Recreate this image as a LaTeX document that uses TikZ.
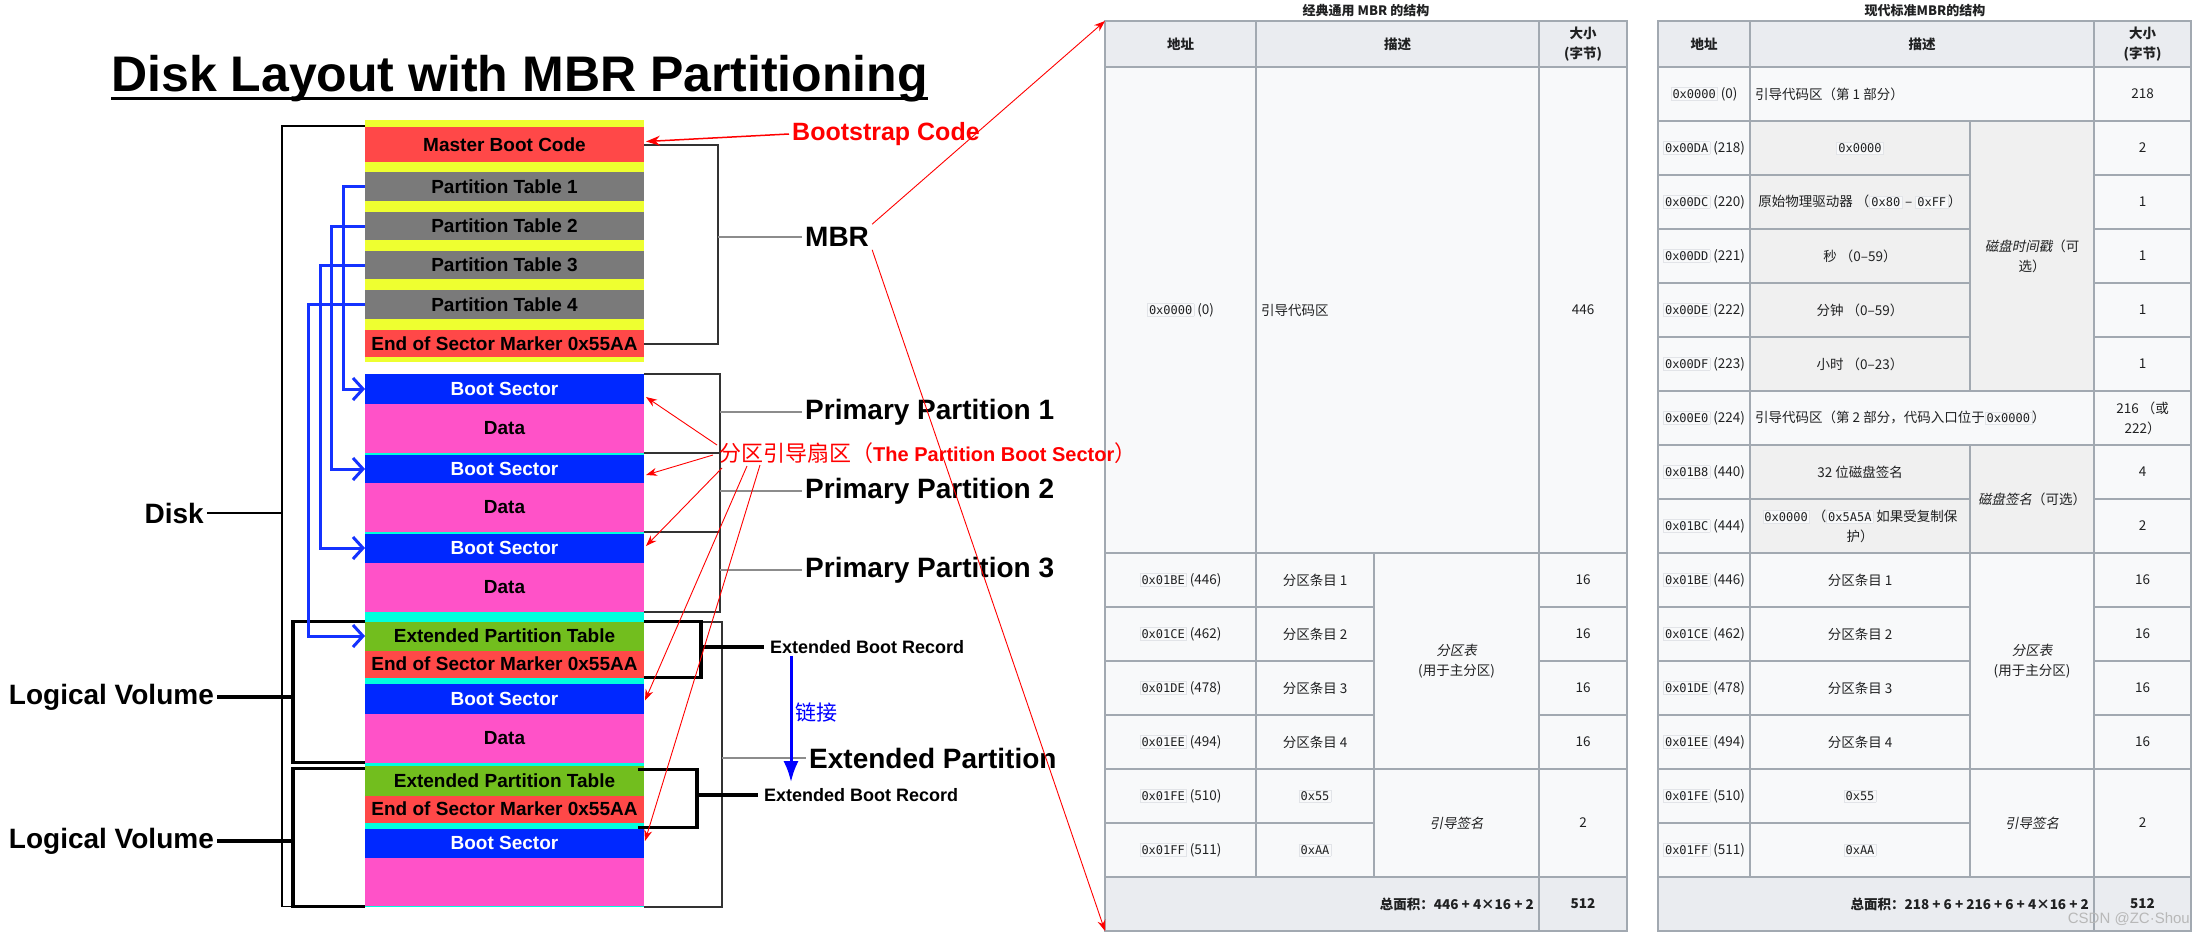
\documentclass[tikz,border=0pt]{standalone}
\usepackage{fontspec}
\setmainfont{Liberation Sans}
\setmonofont{DejaVu Sans Mono}
\newfontfamily\cjk{Noto Sans CJK SC}
\newfontfamily\cjkit[FakeSlant=0.2]{Noto Sans CJK SC}
\usepackage{tikz}
\usetikzlibrary{arrows.meta,positioning,calc}

\definecolor{mbrred}{RGB}{255,72,72}
\definecolor{sepyellow}{RGB}{238,255,48}
\definecolor{ptgray}{RGB}{122,122,122}
\definecolor{bootblue}{RGB}{0,40,255}
\definecolor{datapink}{RGB}{255,82,200}
\definecolor{sepcyan}{RGB}{0,255,222}
\definecolor{eptgreen}{RGB}{114,190,30}
\definecolor{ptrblue}{RGB}{20,50,255}
\definecolor{linkblue}{RGB}{0,0,255}
\definecolor{tblline}{RGB}{162,169,177}
\definecolor{tblhead}{RGB}{234,236,240}
\definecolor{tblcell}{RGB}{248,249,250}
\definecolor{tblshade}{RGB}{240,240,240}
\definecolor{tbltext}{RGB}{32,33,34}
\definecolor{codeline}{RGB}{226,228,232}

\newcommand\hx[1]{{\setlength\fboxsep{1.5pt}\fcolorbox{codeline}{tblcell}{\ttfamily\fontsize{12}{13}\selectfont#1}}}

\begin{document}
\begin{tikzpicture}[x=1pt,y=-1pt,
  blk/.style={rectangle, minimum width=279, inner sep=0, outer sep=0, font=\bfseries\fontsize{19}{22}\selectfont},
  bsblk/.style={blk, fill=bootblue, text=white},
  datablk/.style={blk, fill=datapink},
  lbl/.style={inner sep=3, font=\bfseries\fontsize{28}{32}\selectfont},
  sub/.style={inner sep=6, font=\bfseries\fontsize{18}{21}\selectfont},
  brk/.style={draw=black!80, line width=2},
  tick/.style={draw=black!45, line width=2},
  brkthick/.style={draw=black, line width=3.5},
  disk/.style={draw=black, line width=1.8},
  ptr/.style={draw=ptrblue, line width=3, -{Straight Barb[length=10pt,width=22pt]}},
  redarr/.style={draw=red, line width=1.5, -{Stealth[length=14pt,width=10pt]}},
  redthin/.style={draw=red, line width=0.9, -{Stealth[length=11pt,width=8pt]}},
  linkarr/.style={draw=linkblue, line width=3, -{Latex[length=21pt,width=15pt]}},
  cell/.style={draw=tblline, line width=1.2, fill=tblcell, anchor=north west, inner sep=2, outer sep=0, text=tbltext, align=center, font=\cjk\fontsize{13.5}{20}\selectfont},
  hcell/.style={cell, fill=tblhead, font=\cjk\bfseries\fontsize{13.5}{20}\selectfont},
  txt/.style={inner sep=0, text=tbltext, font=\cjk\fontsize{13.5}{20}\selectfont},
  ttl/.style={inner sep=0, text=tbltext, font=\cjk\bfseries\fontsize{13}{16}\selectfont},
  ra/.style={cell, minimum width=151, minimum height=54},
  rb/.style={cell, minimum width=118, minimum height=54},
  rc/.style={cell, minimum width=165},
  rd/.style={cell, minimum width=88, minimum height=54},
  sa/.style={cell, minimum width=92, minimum height=54},
  sb/.style={cell, minimum width=220, minimum height=54},
  sc/.style={cell, minimum width=124},
  sd/.style={cell, minimum width=97, minimum height=54}]
\path[use as bounding box, fill=white] (0,0) rectangle (2196,934);

\node[anchor=base west, inner sep=0, font=\bfseries\fontsize{50}{60}\selectfont] (title) at (111,92) {Disk Layout with MBR Partitioning};
\draw[line width=3] ($(title.base west)+(0,6)$) -- ($(title.base east)+(0,6)$);

% the disk, top to bottom
\node[blk, fill=sepyellow, minimum height=7, anchor=north] (y0) at (504.5,120) {};
\node[blk, fill=mbrred, minimum height=35, below=0pt of y0] (mbc) {Master Boot Code};
\node[blk, fill=sepyellow, minimum height=10, below=0pt of mbc] (y1) {};
\node[blk, fill=ptgray, minimum height=29, below=0pt of y1] (pt1) {Partition Table 1};
\node[blk, fill=sepyellow, minimum height=11, below=0pt of pt1] (y2) {};
\node[blk, fill=ptgray, minimum height=28, below=0pt of y2] (pt2) {Partition Table 2};
\node[blk, fill=sepyellow, minimum height=11, below=0pt of pt2] (y3) {};
\node[blk, fill=ptgray, minimum height=28, below=0pt of y3] (pt3) {Partition Table 3};
\node[blk, fill=sepyellow, minimum height=11, below=0pt of pt3] (y4) {};
\node[blk, fill=ptgray, minimum height=29, below=0pt of y4] (pt4) {Partition Table 4};
\node[blk, fill=sepyellow, minimum height=11, below=0pt of pt4] (y5) {};
\node[blk, fill=mbrred, minimum height=27, below=0pt of y5] (eos) {End of Sector Marker 0x55AA};
\node[blk, fill=sepyellow, minimum height=5, below=0pt of eos] (y6) {};
\node[blk, minimum height=12, below=0pt of y6] (gap) {};
\node[bsblk, minimum height=30, below=0pt of gap] (bs1) {Boot Sector};
\node[datablk, minimum height=49, below=0pt of bs1] (d1) {Data};
\node[blk, fill=sepcyan, minimum height=2, below=0pt of d1] (c1) {};
\node[bsblk, minimum height=28, below=0pt of c1] (bs2) {Boot Sector};
\node[datablk, minimum height=49, below=0pt of bs2] (d2) {Data};
\node[blk, fill=sepcyan, minimum height=1.5, below=0pt of d2] (c2) {};
\node[bsblk, minimum height=29, below=0pt of c2] (bs3) {Boot Sector};
\node[datablk, minimum height=49, below=0pt of bs3] (d3) {Data};
\node[blk, fill=sepcyan, minimum height=10, below=0pt of d3] (c3) {};
\node[blk, fill=eptgreen, minimum height=29, below=0pt of c3] (ept1) {Extended Partition Table};
\node[blk, fill=mbrred, minimum height=27, below=0pt of ept1] (eos1) {End of Sector Marker 0x55AA};
\node[blk, fill=sepcyan, minimum height=6, below=0pt of eos1] (c4) {};
\node[bsblk, minimum height=30, below=0pt of c4] (bs4) {Boot Sector};
\node[datablk, minimum height=49, below=0pt of bs4] (d4) {Data};
\node[blk, fill=sepcyan, minimum height=3, below=0pt of d4] (c5) {};
\node[blk, fill=eptgreen, minimum height=30, below=0pt of c5] (ept2) {Extended Partition Table};
\node[blk, fill=mbrred, minimum height=27, below=0pt of ept2] (eos2) {End of Sector Marker 0x55AA};
\node[blk, fill=sepcyan, minimum height=6, below=0pt of eos2] (c6) {};
\node[bsblk, minimum height=29, below=0pt of c6] (bs5) {Boot Sector};
\node[datablk, minimum height=49, below=0pt of bs5] (d5) {};
\draw[sepcyan, line width=1.5] (d5.south west) -- (d5.south east);

% right brackets
\draw[brk] (mbc.east) -- ++(74,0) coordinate (mbrx) |- (eos.east);
\node[lbl, anchor=west] (mbr) at (802,237) {MBR};
\draw[tick] (mbrx |- mbr.west) -- (mbr.west);
\draw[brk] (bs1.north east) -- ++(76,0) coordinate (ppx) |- (d3.south east);
\draw[brk] (d1.south east) -- (ppx |- d1.south);
\draw[brk] (d2.south east) -- (ppx |- d2.south);
\node[lbl, anchor=west] (pp1) at (802,412) {Primary Partition 1};
\node[lbl, anchor=west] (pp2) at (802,491) {Primary Partition 2};
\node[lbl, anchor=west] (pp3) at (802,570) {Primary Partition 3};
\draw[tick] (ppx |- pp1.west) -- (pp1.west);
\draw[tick] (ppx |- pp2.west) -- (pp2.west);
\draw[tick] (ppx |- pp3.west) -- (pp3.west);
\draw[brk] (ept1.north east) -- ++(78,0) coordinate (epx) |- (d5.south east);
\node[lbl, anchor=west] (extp) at (806,758) {Extended Partition};
\draw[tick] (epx |- extp.west) -- (extp.west);
\draw[brkthick] (ept1.north east) -- ++(57,0) coordinate (eb1x) |- (eos1.south east);
\node[sub, anchor=west] (ebr1) at (764,647) {Extended Boot Record};
\draw[brkthick] (eb1x |- ebr1.west) -- (ebr1.west);
\draw[brkthick] ($(ept2.north east)+(-6,4)$) -- ++(59,0) coordinate (eb2x) |- ($(eos2.south east)+(-6,5)$);
\node[sub, anchor=west] (ebr2) at (758,795) {Extended Boot Record};
\draw[brkthick] (eb2x |- ebr2.west) -- (ebr2.west);

% left brackets
\draw[brkthick] (ept1.north west) -- ++(-72,0) coordinate (lv1x) |- (d4.south west);
\node[lbl, anchor=east] (lv1) at (217,697) {Logical Volume};
\draw[brkthick] (lv1x |- lv1.east) -- (lv1.east);
\draw[brkthick] ($(ept2.north west)+(0,3)$) -- ++(-72,0) coordinate (lv2x) |- (d5.south west);
\node[lbl, anchor=east] (lv2) at (217,841) {Logical Volume};
\draw[brkthick] (lv2x |- lv2.east) -- (lv2.east);
\draw[disk] ($(y0.north west)+(0,6)$) -- ++(-83,0) coordinate (dkx) |- (d5.south west);
\node[lbl, anchor=east] (disk) at (207,513) {Disk};
\draw[disk] (dkx |- disk.east) -- (disk.east);

% partition table pointers
\draw[ptr] (pt1.west) -- ++(-22,0) |- (bs1.west);
\draw[ptr] (pt2.west) -- ++(-34,0) |- (bs2.west);
\draw[ptr] (pt3.west) -- ++(-45,0) |- (bs3.west);
\draw[ptr] (pt4.west) -- ++(-57,0) |- (ept1.west);

\coordinate (lk) at ($(ebr1.south west)+(27,-4)$);
\draw[linkarr] (lk) -- (lk |- ebr2.north);
\node[anchor=west, inner sep=1, text=linkblue, font=\cjk\fontsize{21}{24}\selectfont] (lnk) at (794,713) {链接};

% table 1
\node[ttl] (ta-ttl) at (1366,11) {经典通用 MBR 的结构};
\node[hcell, minimum width=151, minimum height=46] (ta-h1) at (1105,21) {地址};
\node[hcell, minimum width=283, minimum height=46] (ta-h2) at (1256,21) {描述};
\node[hcell, minimum width=88, minimum height=46] (ta-h3) at (1539,21) {大小\\(字节)};
\node[ra, minimum height=486] (ta-a0) at (1105,67) {\hx{0x0000} (0)};
\node[cell, minimum width=283, minimum height=486] (ta-b0) at (1256,67) {};
\node[txt, anchor=west] (ta-b0t) at ($(ta-b0.west)+(5,0)$) {引导代码区};
\node[rd, minimum height=486] (ta-d0) at (1539,67) {446};
\node[ra] (ta-a1) at (1105,553) {\hx{0x01BE} (446)};
\node[ra] (ta-a2) at (1105,607) {\hx{0x01CE} (462)};
\node[ra] (ta-a3) at (1105,661) {\hx{0x01DE} (478)};
\node[ra] (ta-a4) at (1105,715) {\hx{0x01EE} (494)};
\node[ra] (ta-a5) at (1105,769) {\hx{0x01FE} (510)};
\node[ra] (ta-a6) at (1105,823) {\hx{0x01FF} (511)};
\node[rb] (ta-b1) at (1256,553) {分区条目 1};
\node[rb] (ta-b2) at (1256,607) {分区条目 2};
\node[rb] (ta-b3) at (1256,661) {分区条目 3};
\node[rb] (ta-b4) at (1256,715) {分区条目 4};
\node[rb] (ta-b5) at (1256,769) {\hx{0x55}};
\node[rb] (ta-b6) at (1256,823) {\hx{0xAA}};
\node[rc, minimum height=216] (ta-c1) at (1374,553) {{\cjkit 分区表}\\(用于主分区)};
\node[rc, minimum height=108] (ta-c5) at (1374,769) {\cjkit 引导签名};
\node[rd] (ta-d1) at (1539,553) {16};
\node[rd] (ta-d2) at (1539,607) {16};
\node[rd] (ta-d3) at (1539,661) {16};
\node[rd] (ta-d4) at (1539,715) {16};
\node[rd, minimum height=108] (ta-d5) at (1539,769) {2};
\node[hcell, minimum width=434, minimum height=54] (ta-tot) at (1105,877) {};
\node[txt, anchor=east, font=\cjk\bfseries\fontsize{13.5}{20}\selectfont] (ta-tott) at ($(ta-tot.east)+(-5,0)$) {总面积：446 + 4×16 + 2};
\node[hcell, minimum width=88, minimum height=54] (ta-sum) at (1539,877) {512};

% table 2
\node[ttl] (tb-ttl) at (1925,11) {现代标准MBR的结构};
\node[hcell, minimum width=92, minimum height=46] (tb-h1) at (1658,21) {地址};
\node[hcell, minimum width=344, minimum height=46] (tb-h2) at (1750,21) {描述};
\node[hcell, minimum width=97, minimum height=46] (tb-h3) at (2094,21) {大小\\(字节)};
\node[sa] (tb-a1) at (1658,67) {\hx{0x0000} (0)};
\node[sa] (tb-a2) at (1658,121) {\hx{0x00DA} (218)};
\node[sa] (tb-a3) at (1658,175) {\hx{0x00DC} (220)};
\node[sa] (tb-a4) at (1658,229) {\hx{0x00DD} (221)};
\node[sa] (tb-a5) at (1658,283) {\hx{0x00DE} (222)};
\node[sa] (tb-a6) at (1658,337) {\hx{0x00DF} (223)};
\node[sa] (tb-a7) at (1658,391) {\hx{0x00E0} (224)};
\node[sa] (tb-a8) at (1658,445) {\hx{0x01B8} (440)};
\node[sa] (tb-a9) at (1658,499) {\hx{0x01BC} (444)};
\node[sa] (tb-a10) at (1658,553) {\hx{0x01BE} (446)};
\node[sa] (tb-a11) at (1658,607) {\hx{0x01CE} (462)};
\node[sa] (tb-a12) at (1658,661) {\hx{0x01DE} (478)};
\node[sa] (tb-a13) at (1658,715) {\hx{0x01EE} (494)};
\node[sa] (tb-a14) at (1658,769) {\hx{0x01FE} (510)};
\node[sa] (tb-a15) at (1658,823) {\hx{0x01FF} (511)};
\node[cell, minimum width=344, minimum height=54] (tb-b1) at (1750,67) {};
\node[txt, anchor=west] (tb-b1t) at ($(tb-b1.west)+(5,0)$) {引导代码区（第 1 部分）};
\node[sb, fill=tblshade] (tb-b2) at (1750,121) {\hx{0x0000}};
\node[sb, fill=tblshade] (tb-b3) at (1750,175) {原始物理驱动器 （\hx{0x80} – \hx{0xFF}）};
\node[sb, fill=tblshade] (tb-b4) at (1750,229) {秒 （0–59）};
\node[sb, fill=tblshade] (tb-b5) at (1750,283) {分钟 （0–59）};
\node[sb, fill=tblshade] (tb-b6) at (1750,337) {小时 （0–23）};
\node[cell, minimum width=344, minimum height=54] (tb-b7) at (1750,391) {};
\node[txt, anchor=west] (tb-b7t) at ($(tb-b7.west)+(5,0)$) {引导代码区（第 2 部分，代码入口位于\hx{0x0000}）};
\node[sb, fill=tblshade] (tb-b8) at (1750,445) {32 位磁盘签名};
\node[sb, fill=tblshade] (tb-b9) at (1750,499) {\hx{0x0000} （\hx{0x5A5A} 如果受复制保\\护）};
\node[sb] (tb-b10) at (1750,553) {分区条目 1};
\node[sb] (tb-b11) at (1750,607) {分区条目 2};
\node[sb] (tb-b12) at (1750,661) {分区条目 3};
\node[sb] (tb-b13) at (1750,715) {分区条目 4};
\node[sb] (tb-b14) at (1750,769) {\hx{0x55}};
\node[sb] (tb-b15) at (1750,823) {\hx{0xAA}};
\node[sc, fill=tblshade, minimum height=270] (tb-c2) at (1970,121) {{\cjkit 磁盘时间戳}（可\\选）};
\node[sc, fill=tblshade, minimum height=108] (tb-c8) at (1970,445) {{\cjkit 磁盘签名}（可选）};
\node[sc, minimum height=216] (tb-c10) at (1970,553) {{\cjkit 分区表}\\(用于主分区)};
\node[sc, minimum height=108] (tb-c14) at (1970,769) {\cjkit 引导签名};
\node[sd] (tb-d1) at (2094,67) {218};
\node[sd] (tb-d2) at (2094,121) {2};
\node[sd] (tb-d3) at (2094,175) {1};
\node[sd] (tb-d4) at (2094,229) {1};
\node[sd] (tb-d5) at (2094,283) {1};
\node[sd] (tb-d6) at (2094,337) {1};
\node[sd] (tb-d7) at (2094,391) {216 （或\\222）};
\node[sd] (tb-d8) at (2094,445) {4};
\node[sd] (tb-d9) at (2094,499) {2};
\node[sd] (tb-d10) at (2094,553) {16};
\node[sd] (tb-d11) at (2094,607) {16};
\node[sd] (tb-d12) at (2094,661) {16};
\node[sd] (tb-d13) at (2094,715) {16};
\node[sd, minimum height=108] (tb-d14) at (2094,769) {2};
\node[hcell, minimum width=436, minimum height=54] (tb-tot) at (1658,877) {};
\node[txt, anchor=east, font=\cjk\bfseries\fontsize{13.5}{20}\selectfont] (tb-tott) at ($(tb-tot.east)+(-5,0)$) {总面积：218 + 6 + 216 + 6 + 4×16 + 2};
\node[hcell, minimum width=97, minimum height=54] (tb-sum) at (2094,877) {512};
\node[anchor=east, inner sep=0, text=black!28, font=\fontsize{15}{18}\selectfont] (mark) at (2190,919) {CSDN @ZC·Shou};

% red callouts
\node[anchor=west, inner sep=3, text=red, font=\bfseries\fontsize{25}{28}\selectfont] (boot) at (789,134) {Bootstrap Code};
\draw[redarr] (boot.west) -- ($(mbc.east)+(2,-3)$);
\node[anchor=west, inner sep=1, text=red] (pbs) at (718,453) {{\cjk\fontsize{22}{24}\selectfont 分区引导扇区（}{\bfseries\fontsize{20}{24}\selectfont The Partition Boot Sector}{\cjk\fontsize{22}{24}\selectfont ）}};
\draw[redthin] ($(pbs.west)+(-1,-8)$) -- ($(bs1.east)+(2,8)$);
\draw[redthin] ($(pbs.west)+(-5,2)$) -- ($(bs2.east)+(2,6)$);
\draw[redthin] ($(pbs.west)+(4,15)$) -- ($(bs3.east)+(2,-2)$);
\draw[redthin] ($(pbs.west)+(29,13)$) -- ($(bs4.east)+(1,2)$);
\draw[redthin] ($(pbs.west)+(42,12)$) -- ($(bs5.east)+(1,-2)$);
\draw[redthin] (mbr.north east) -- (ta-h1.north west);
\draw[redthin] (mbr.south east) -- (ta-tot.south west);
\end{tikzpicture}
\end{document}
